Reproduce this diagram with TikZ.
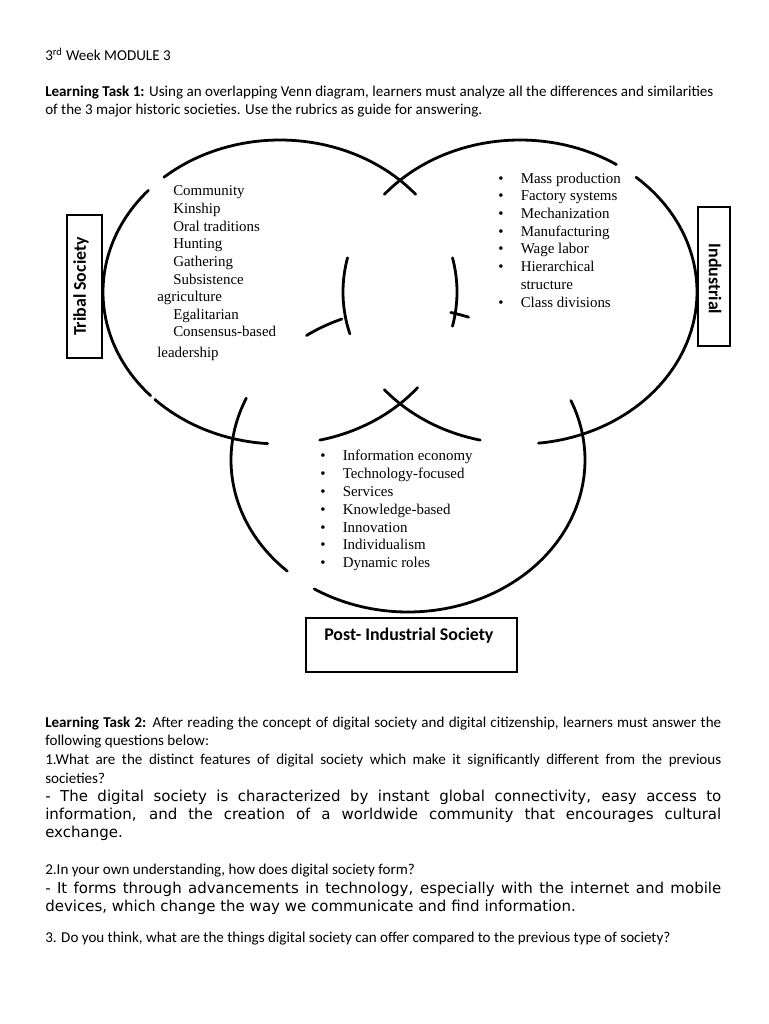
\documentclass[tikz,border=0pt]{standalone}
\usepackage{fontspec}
\setmainfont{Carlito}
\newfontfamily\vennfont{Liberation Serif}
\newfontfamily\ansfont{DejaVu Sans}
\newcommand{\jline}[1]{\makebox[507pt][s]{#1}}
\begin{document}
\begin{tikzpicture}[x=0.75pt,y=-0.75pt,
  venn/.style={line width=2.1pt, line cap=round},
  body/.style={anchor=base west, inner sep=0pt, font=\fontsize{11.3}{13}\selectfont},
  ans/.style={anchor=base west, inner sep=0pt, font=\ansfont\fontsize{11.25}{13}\selectfont},
  item/.style={anchor=base west, inner sep=0pt, font=\vennfont\fontsize{11.2}{13}\selectfont},
  bul/.style={anchor=base, inner sep=0pt, font=\vennfont\fontsize{11.2}{13}\selectfont},
  labbox/.style={draw, line width=0.9pt},
  lab/.style={inner sep=0pt, font=\bfseries\fontsize{13.4}{16}\selectfont}
]
\useasboundingbox[fill=white] (0,0) rectangle (768,1024);

% header
\node[body] (week) at (45,61) {3\textsuperscript{rd} Week MODULE 3};
\node[body] (t1a) at (45,96) {\textbf{Learning Task 1:} Using an overlapping Venn diagram, learners must analyze all the differences and similarities};
\node[body] (t1b) at (45,114) {of the 3 major historic societies. Use the rubrics as guide for answering.};

% Venn: left ellipse (Tribal)
\draw[venn] plot[domain=229:320, samples=40, smooth] ({280+177*cos(\x)},{292+152*sin(\x)});
\draw[venn] plot[domain=137:222, samples=40, smooth] ({280+177*cos(\x)},{292+152*sin(\x)});
\draw[venn] plot[domain=94:135, samples=20, smooth] ({280+177*cos(\x)},{292+152*sin(\x)});
\draw[venn] plot[domain=39:77, samples=20, smooth] ({280+177*cos(\x)},{292+152*sin(\x)});
\draw[venn] plot[domain=-13:13, samples=15, smooth] ({280+177*cos(\x)},{292+152*sin(\x)});
% right ellipse (Industrial)
\draw[venn] plot[domain=220:303, samples=40, smooth] ({520+177*cos(\x)},{292+152*sin(\x)});
\draw[venn] plot[domain=-49:84, samples=50, smooth] ({520+177*cos(\x)},{292+152*sin(\x)});
\draw[venn] plot[domain=103:140, samples=20, smooth] ({520+177*cos(\x)},{292+152*sin(\x)});
\draw[venn] plot[domain=164:193, samples=15, smooth] ({520+177*cos(\x)},{292+152*sin(\x)});
% bottom ellipse (Post-Industrial)
\draw[venn] plot[domain=133:204, samples=30, smooth] ({408+177*cos(\x)},{460+152*sin(\x)});
\draw[venn] plot[domain=-23:122, samples=50, smooth] ({408+177*cos(\x)},{460+152*sin(\x)});
\draw[venn] plot[domain=235:248, samples=10, smooth] ({408+177*cos(\x)},{460+152*sin(\x)});
\draw[venn] plot[domain=284:290, samples=5, smooth] ({408+177*cos(\x)},{460+152*sin(\x)});

% labels
\draw[labbox] (67,215) rectangle (102,358);
\node[lab, rotate=90] (tribal) at (81,286.5) {Tribal Society};
\draw[labbox] (698,207) rectangle (730,346);
\node[lab, rotate=-90] (industrial) at (715,279) {Industrial};
\draw[labbox] (306,618) rectangle (517,672);
\node[lab, anchor=base west] (post) at (324,640) {Post- Industrial Society};

% left items
\node[item] (l1) at (173,195) {Community};
\node[item] (l2) at (173,213) {Kinship};
\node[item] (l3) at (173,231) {Oral traditions};
\node[item] (l4) at (173,248.5) {Hunting};
\node[item] (l5) at (173,266) {Gathering};
\node[item] (l6) at (173,284) {Subsistence};
\node[item] (l7) at (157,301.5) {agriculture};
\node[item] (l8) at (173,319.5) {Egalitarian};
\node[item] (l9) at (173,336.5) {Consensus-based};
\node[item] (l10) at (157,357.5) {leadership};

% right items
\foreach \t [count=\i] in {Mass production,Factory systems,Mechanization,Manufacturing,Wage labor,Hierarchical}{
  \pgfmathsetmacro{\yy}{183.3+17.6*(\i-1)}
  \node[bul] (rb\i) at (501,\yy) {•};
  \node[item] (r\i) at (520.5,\yy) {\t};
}
\node[item] (r7) at (520.5,289.3) {structure};
\node[bul] (rb8) at (501,307.3) {•};
\node[item] (r8) at (520.5,307.3) {Class divisions};

% bottom items
\foreach \t [count=\i] in {Information economy,Technology-focused,Services,Knowledge-based,Innovation,Individualism,Dynamic roles}{
  \pgfmathsetmacro{\yy}{460.7+17.85*(\i-1)}
  \node[bul] (bb\i) at (323,\yy) {•};
  \node[item] (b\i) at (342.5,\yy) {\t};
}

% task 2
\node[body] (t2a) at (45,727) {\jline{\textbf{Learning Task 2:} After reading the concept of digital society and digital citizenship, learners must answer the}};
\node[body] (t2b) at (45,745.5) {following questions below:};
\node[body] (q1a) at (45,764) {\jline{1.What are the distinct features of digital society which make it significantly different from the previous}};
\node[body] (q1b) at (45,783) {societies?};
\node[ans] (a1a) at (45,801.5) {\jline{- The digital society is characterized by instant global connectivity, easy access to}};
\node[ans] (a1b) at (45,819.5) {\jline{information, and the creation of a worldwide community that encourages cultural}};
\node[ans] (a1c) at (45,837) {exchange.};
\node[body] (q2) at (45,874.5) {2.In your own understanding, how does digital society form?};
\node[ans] (a2a) at (45,893.5) {\jline{- It forms through advancements in technology, especially with the internet and mobile}};
\node[ans] (a2b) at (45,911) {devices, which change the way we communicate and find information.};
\node[body] (q3) at (45,942) {3. Do you think, what are the things digital society can offer compared to the previous type of society?};
\end{tikzpicture}
\end{document}
